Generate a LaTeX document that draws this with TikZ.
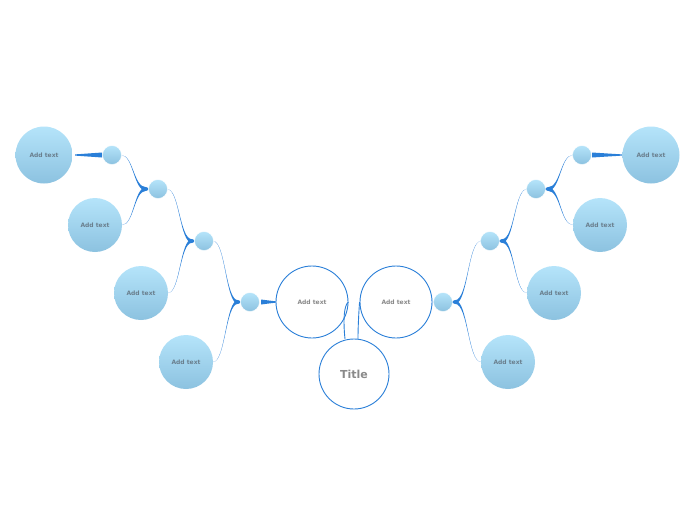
\documentclass[tikz,border=0pt]{standalone}
\usepackage{fontspec}
\setmainfont{DejaVu Sans}
\begin{document}
\begin{tikzpicture}[x=1pt,y=-1pt,
  leaf/.style={circle,minimum size=#1,inner sep=0pt,top color=lt,bottom color=dk,draw=none,font=\bfseries\fontsize{6}{7}\selectfont,text=tx},
  dotn/.style={circle,minimum size=19,inner sep=0pt,top color=lt,bottom color=dk,draw=white,line width=0.4},
  sub/.style={circle,minimum size=72,inner sep=0pt,draw=bl,line width=0.9,fill=white,font=\bfseries\fontsize{6}{7}\selectfont,text=tx2},
  conn/.style={draw=bl,line width=0.9}]
\definecolor{lt}{HTML}{B5E4FA}
\definecolor{dk}{HTML}{8CC2E0}
\definecolor{tx}{HTML}{6A7F8E}
\definecolor{tx2}{HTML}{8A8A8A}
\definecolor{bl}{HTML}{2A7FD8}
\useasboundingbox (0,0) rectangle (696,520);
\newcommand\tap[4]{\fill[bl] (#1+4,#2) -- (#1,#2-1.8) .. controls ({(#1+#3)/2},#2-1.8) and ({(#1+#3)/2},#4) .. (#3,#4) .. controls ({(#1+#3)/2},#4) and ({(#1+#3)/2},#2+1.8) .. (#1,#2+1.8) -- cycle;}
\newcommand\tapr[4]{\fill[bl] (#1-4,#2) -- (#1,#2-1.8) .. controls ({(#1+#3)/2},#2-1.8) and ({(#1+#3)/2},#4) .. (#3,#4) .. controls ({(#1+#3)/2},#4) and ({(#1+#3)/2},#2+1.8) .. (#1,#2+1.8) -- cycle;}
\newcommand\mywedge[3]{\fill[bl] (#1,#3-2.5) -- (#1,#3+2.5) -- (#2,#3+0.6) -- (#2,#3-0.6) -- cycle;}
% left
\tap{238}{302}{213}{241}\tap{238}{302}{213}{362}
\tap{192}{241}{167}{189}\tap{192}{241}{168}{293}
\tap{146}{189}{121}{155}\tap{146}{189}{122}{225}
\mywedge{102}{75}{155}\mywedge{261}{276}{302}
% right
\tapr{455}{302}{481}{241}\tapr{455}{302}{481}{362}
\tapr{502}{241}{527}{189}\tapr{502}{241}{527}{293}
\tapr{548}{189}{573}{155}\tapr{548}{189}{573}{225}
\mywedge{592}{622}{155}\mywedge{432}{418}{302}
\node[sub,minimum size=70,font=\bfseries\fontsize{11}{13}\selectfont] (t) at (354,374) {Title};
\node[sub] (sl) at (312,302) {Add text};
\node[sub] (sr) at (396,302) {Add text};
\draw[conn] (sl.east) .. controls (344,305) and (343,320) .. (345,339);
\draw[conn] (sr.west) .. controls (359,310) and (358,325) .. (358,339);
\foreach \n/\x/\y in {a1/250/302,a2/204/241,a3/158/189,a4/112/155,b1/443/302,b2/490/241,b3/536/189,b4/582/155}
  \node[dotn] (\n) at (\x,\y) {};
\foreach \n/\x/\y/\s in {l1/44/155/57,l2/95/225/54,l3/141/293/54,l4/186/362/54,r1/651/155/57,r2/600/225/54,r3/554/293/54,r4/508/362/54}
  \node[leaf=\s] (\n) at (\x,\y) {Add text};
\end{tikzpicture}
\end{document}
